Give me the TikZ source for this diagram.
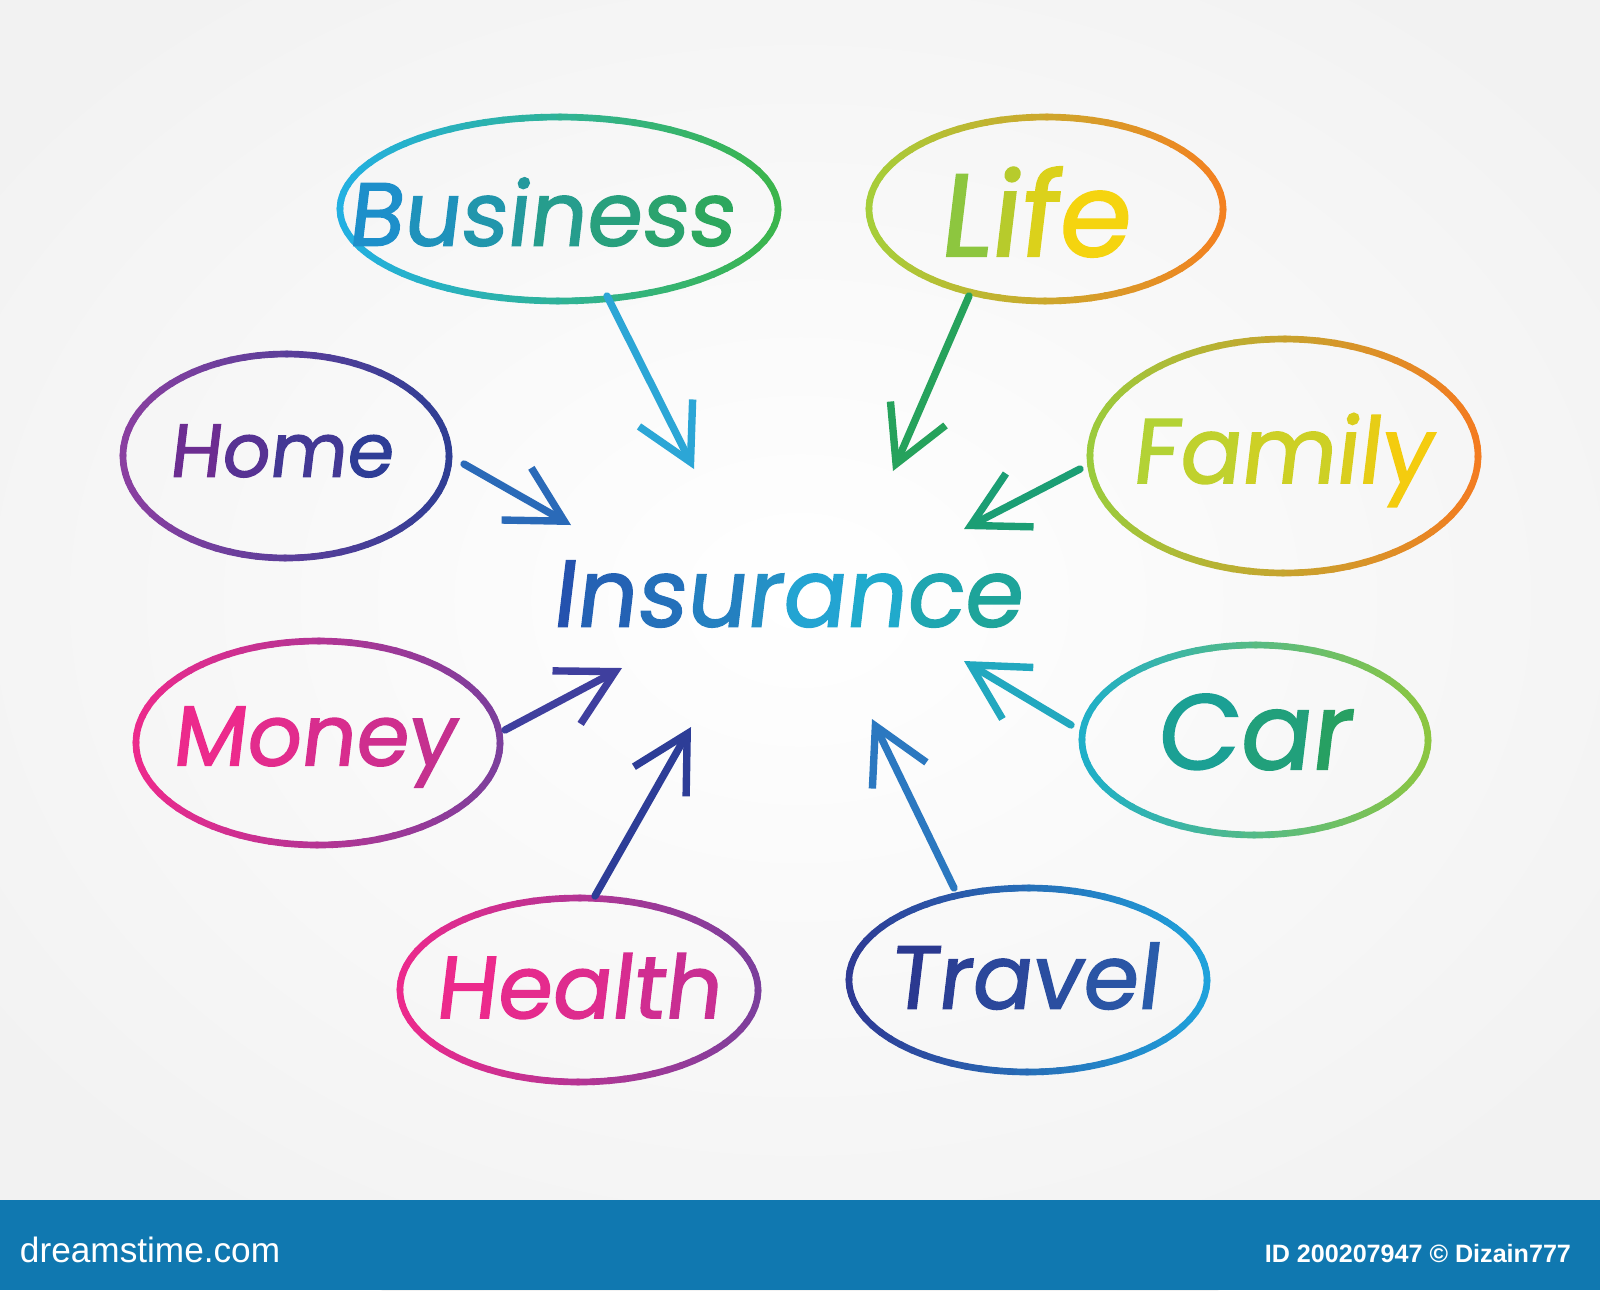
\documentclass[tikz,border=0pt]{standalone}
\usepackage{fontspec}
\usetikzlibrary{arrows.meta,shapes.geometric}
\newfontfamily\hand{Poppins}[FakeSlant=0.12,FakeBold=1.6]
\newfontfamily\barfont{Liberation Sans}
\definecolor{barblue}{HTML}{1078B0}
\newcommand\gc[2]{{\color{gR!#1!gL}#2}}
\newcommand\gradell[6]{%
  \foreach \a in {0,5,...,355}{%
    \pgfmathtruncatemacro\gpct{50*(1+cos(\a+2.5))}%
    \draw[ellstroke,color=#6!\gpct!#5] plot[domain=\a:\a+5.6,samples=4,variable=\t] ({#1+#3*cos(\t)},{#2+#4*sin(\t)});
  }}
\definecolor{eBL}{HTML}{22B0E2}\definecolor{eBR}{HTML}{3CB54A}
\definecolor{eLL}{HTML}{A6CE39}\definecolor{eLR}{HTML}{F48020}
\definecolor{eHL}{HTML}{8A3FA0}\definecolor{eHR}{HTML}{2E3E94}
\definecolor{eFL}{HTML}{9BCB3C}\definecolor{eFR}{HTML}{F47B20}
\definecolor{eML}{HTML}{EC2A8C}\definecolor{eMR}{HTML}{7B3F9C}
\definecolor{eCL}{HTML}{1FAFC8}\definecolor{eCR}{HTML}{8DC640}
\definecolor{eGL}{HTML}{EC2A8C}\definecolor{eGR}{HTML}{7B3F9C}
\definecolor{eTL}{HTML}{2E3A94}\definecolor{eTR}{HTML}{1FA3DC}
\definecolor{aB}{HTML}{2CA6D6}\definecolor{aL}{HTML}{26A25C}
\definecolor{aH}{HTML}{2A6AB8}\definecolor{aF}{HTML}{1B9E74}
\definecolor{aM}{HTML}{3F3F9E}\definecolor{aC}{HTML}{22A8BF}
\definecolor{aG}{HTML}{2D3D97}\definecolor{aT}{HTML}{2B78C0}
\definecolor{bgedge}{HTML}{F2F2F2}
\tikzset{
  ellstroke/.style={line width=1.9pt,line cap=round},
  lab/.style={inner sep=0pt,outer sep=0pt},
  holder/.style={ellipse,inner sep=0pt,draw=none},
  arr/.style={line width=2.1pt,line cap=round,-{Straight Barb[length=5.5mm,width=6mm,line width=2.1pt]}},
}
\begin{document}
\begin{tikzpicture}[x=0.01cm,y=-0.01cm]
\useasboundingbox (0,0) rectangle (1600,1290);
\fill[bgedge] (0,0) rectangle (1600,1200);
\shade[inner color=white,outer color=bgedge] (800,600) ellipse [x radius=1000,y radius=760];
% bottom bar
\fill[barblue] (0,1200) rectangle (1600,1290);
\node[lab,anchor=base west,text=white] (dt) at (20,1262) {\resizebox{2.6cm}{!}{\barfont dreamstime.com}};
\node[lab,anchor=base east,text=white] (id) at (1571,1262) {\resizebox{3.06cm}{!}{\barfont\bfseries ID 200207947 \textcopyright{} Dizain777}};
% ellipses
\gradell{559}{209}{219}{92}{eBL}{eBR}
\gradell{1046}{209}{177}{92}{eLL}{eLR}
\gradell{286}{456}{163}{102}{eHL}{eHR}
\gradell{1284}{456}{194}{117}{eFL}{eFR}
\gradell{318}{743}{182}{102}{eML}{eMR}
\gradell{1255}{740}{173}{95}{eCL}{eCR}
\gradell{579}{990}{179}{92}{eGL}{eGR}
\gradell{1028}{980}{179}{92}{eTL}{eTR}
% holders
\node[holder,minimum width=4.38cm,minimum height=1.84cm] (business) at (559,209) {};
\node[holder,minimum width=3.54cm,minimum height=1.84cm] (life) at (1046,209) {};
\node[holder,minimum width=3.26cm,minimum height=2.04cm] (home) at (286,456) {};
\node[holder,minimum width=3.88cm,minimum height=2.34cm] (family) at (1284,456) {};
\node[holder,minimum width=3.64cm,minimum height=2.04cm] (money) at (318,743) {};
\node[holder,minimum width=3.46cm,minimum height=1.90cm] (car) at (1255,740) {};
\node[holder,minimum width=3.58cm,minimum height=1.84cm] (health) at (579,990) {};
\node[holder,minimum width=3.58cm,minimum height=1.84cm] (travel) at (1028,980) {};
% labels
\definecolor{gL}{HTML}{1D8FCA}\definecolor{gR}{HTML}{2DA75E}
\node[lab] (tbusiness) at (540,212) {\resizebox{3.86cm}{!}{\hand\gc{0}{B}\gc{14}{u}\gc{28}{s}\gc{42}{i}\gc{57}{n}\gc{71}{e}\gc{85}{s}\gc{100}{s}}};
\definecolor{gL}{HTML}{8DC63F}\definecolor{gR}{HTML}{F5D40F}
\node[lab] (tlife) at (1033,212) {\resizebox{1.9cm}{!}{\hand\gc{0}{L}\gc{40}{i}\gc{75}{f}\gc{100}{e}}};
\definecolor{gL}{HTML}{6C2D91}\definecolor{gR}{HTML}{2E3D96}
\node[lab] (thome) at (280,451) {\resizebox{2.23cm}{!}{\hand\gc{0}{H}\gc{33}{o}\gc{66}{m}\gc{100}{e}}};
\definecolor{gL}{HTML}{B3D235}\definecolor{gR}{HTML}{F4CC0E}
\node[lab] (tfamily) at (1281,460) {\resizebox{3.0cm}{!}{\hand\gc{0}{F}\gc{20}{a}\gc{40}{m}\gc{60}{i}\gc{80}{l}\gc{100}{y}}};
\definecolor{gL}{HTML}{EC2A8C}\definecolor{gR}{HTML}{C5308F}
\node[lab] (tmoney) at (313,747) {\resizebox{2.83cm}{!}{\hand\gc{0}{M}\gc{25}{o}\gc{50}{n}\gc{75}{e}\gc{100}{y}}};
\definecolor{gL}{HTML}{1BA094}\definecolor{gR}{HTML}{27A062}
\node[lab] (tcar) at (1252,732) {\resizebox{1.94cm}{!}{\hand\gc{0}{C}\gc{50}{a}\gc{100}{r}}};
\definecolor{gL}{HTML}{EC2A8C}\definecolor{gR}{HTML}{C92E92}
\node[lab] (thealth) at (577,986) {\resizebox{2.85cm}{!}{\hand\gc{0}{H}\gc{20}{e}\gc{40}{a}\gc{60}{l}\gc{80}{t}\gc{100}{h}}};
\definecolor{gL}{HTML}{2B3990}\definecolor{gR}{HTML}{2A5CAA}
\node[lab] (ttravel) at (1023,976) {\resizebox{2.7cm}{!}{\hand\gc{0}{T}\gc{20}{r}\gc{40}{a}\gc{60}{v}\gc{80}{e}\gc{100}{l}}};
\definecolor{i1}{HTML}{2452AE}\definecolor{i2}{HTML}{2462B4}\definecolor{i3}{HTML}{2470BA}
\definecolor{i4}{HTML}{2480C0}\definecolor{i5}{HTML}{2590C6}\definecolor{i6}{HTML}{23A4D2}
\definecolor{i7}{HTML}{20AACC}\definecolor{i8}{HTML}{1FA6B0}\definecolor{i9}{HTML}{1EA49A}
\node[lab] (insurance) at (786,594) {\resizebox{4.69cm}{!}{\hand{\color{i1}I}{\color{i2}n}{\color{i3}s}{\color{i4}u}{\color{i5}r}{\color{i6}a}{\color{i7}n}{\color{i8}c}{\color{i9}e}}};
% arrow end points
\coordinate (bs) at (607,296); \coordinate (be) at (694,469);
\coordinate (ls) at (969,296); \coordinate (le) at (893,471);
\coordinate (hs) at (464,464); \coordinate (he) at (571,525);
\coordinate (fs) at (1080,469); \coordinate (fe) at (964,529);
\coordinate (ms) at (505,730); \coordinate (me) at (622,668);
\coordinate (cs) at (1071,725); \coordinate (ce) at (964,661);
\coordinate (gs) at (595,896); \coordinate (ge) at (691,727);
\coordinate (ts) at (954,888); \coordinate (te) at (872,719);
\draw[arr,color=aB] (bs) -- (be);
\draw[arr,color=aL] (ls) -- (le);
\draw[arr,color=aH] (hs) -- (he);
\draw[arr,color=aF] (fs) -- (fe);
\draw[arr,color=aM] (ms) -- (me);
\draw[arr,color=aC] (cs) -- (ce);
\draw[arr,color=aG] (gs) -- (ge);
\draw[arr,color=aT] (ts) -- (te);
\end{tikzpicture}
\end{document}
